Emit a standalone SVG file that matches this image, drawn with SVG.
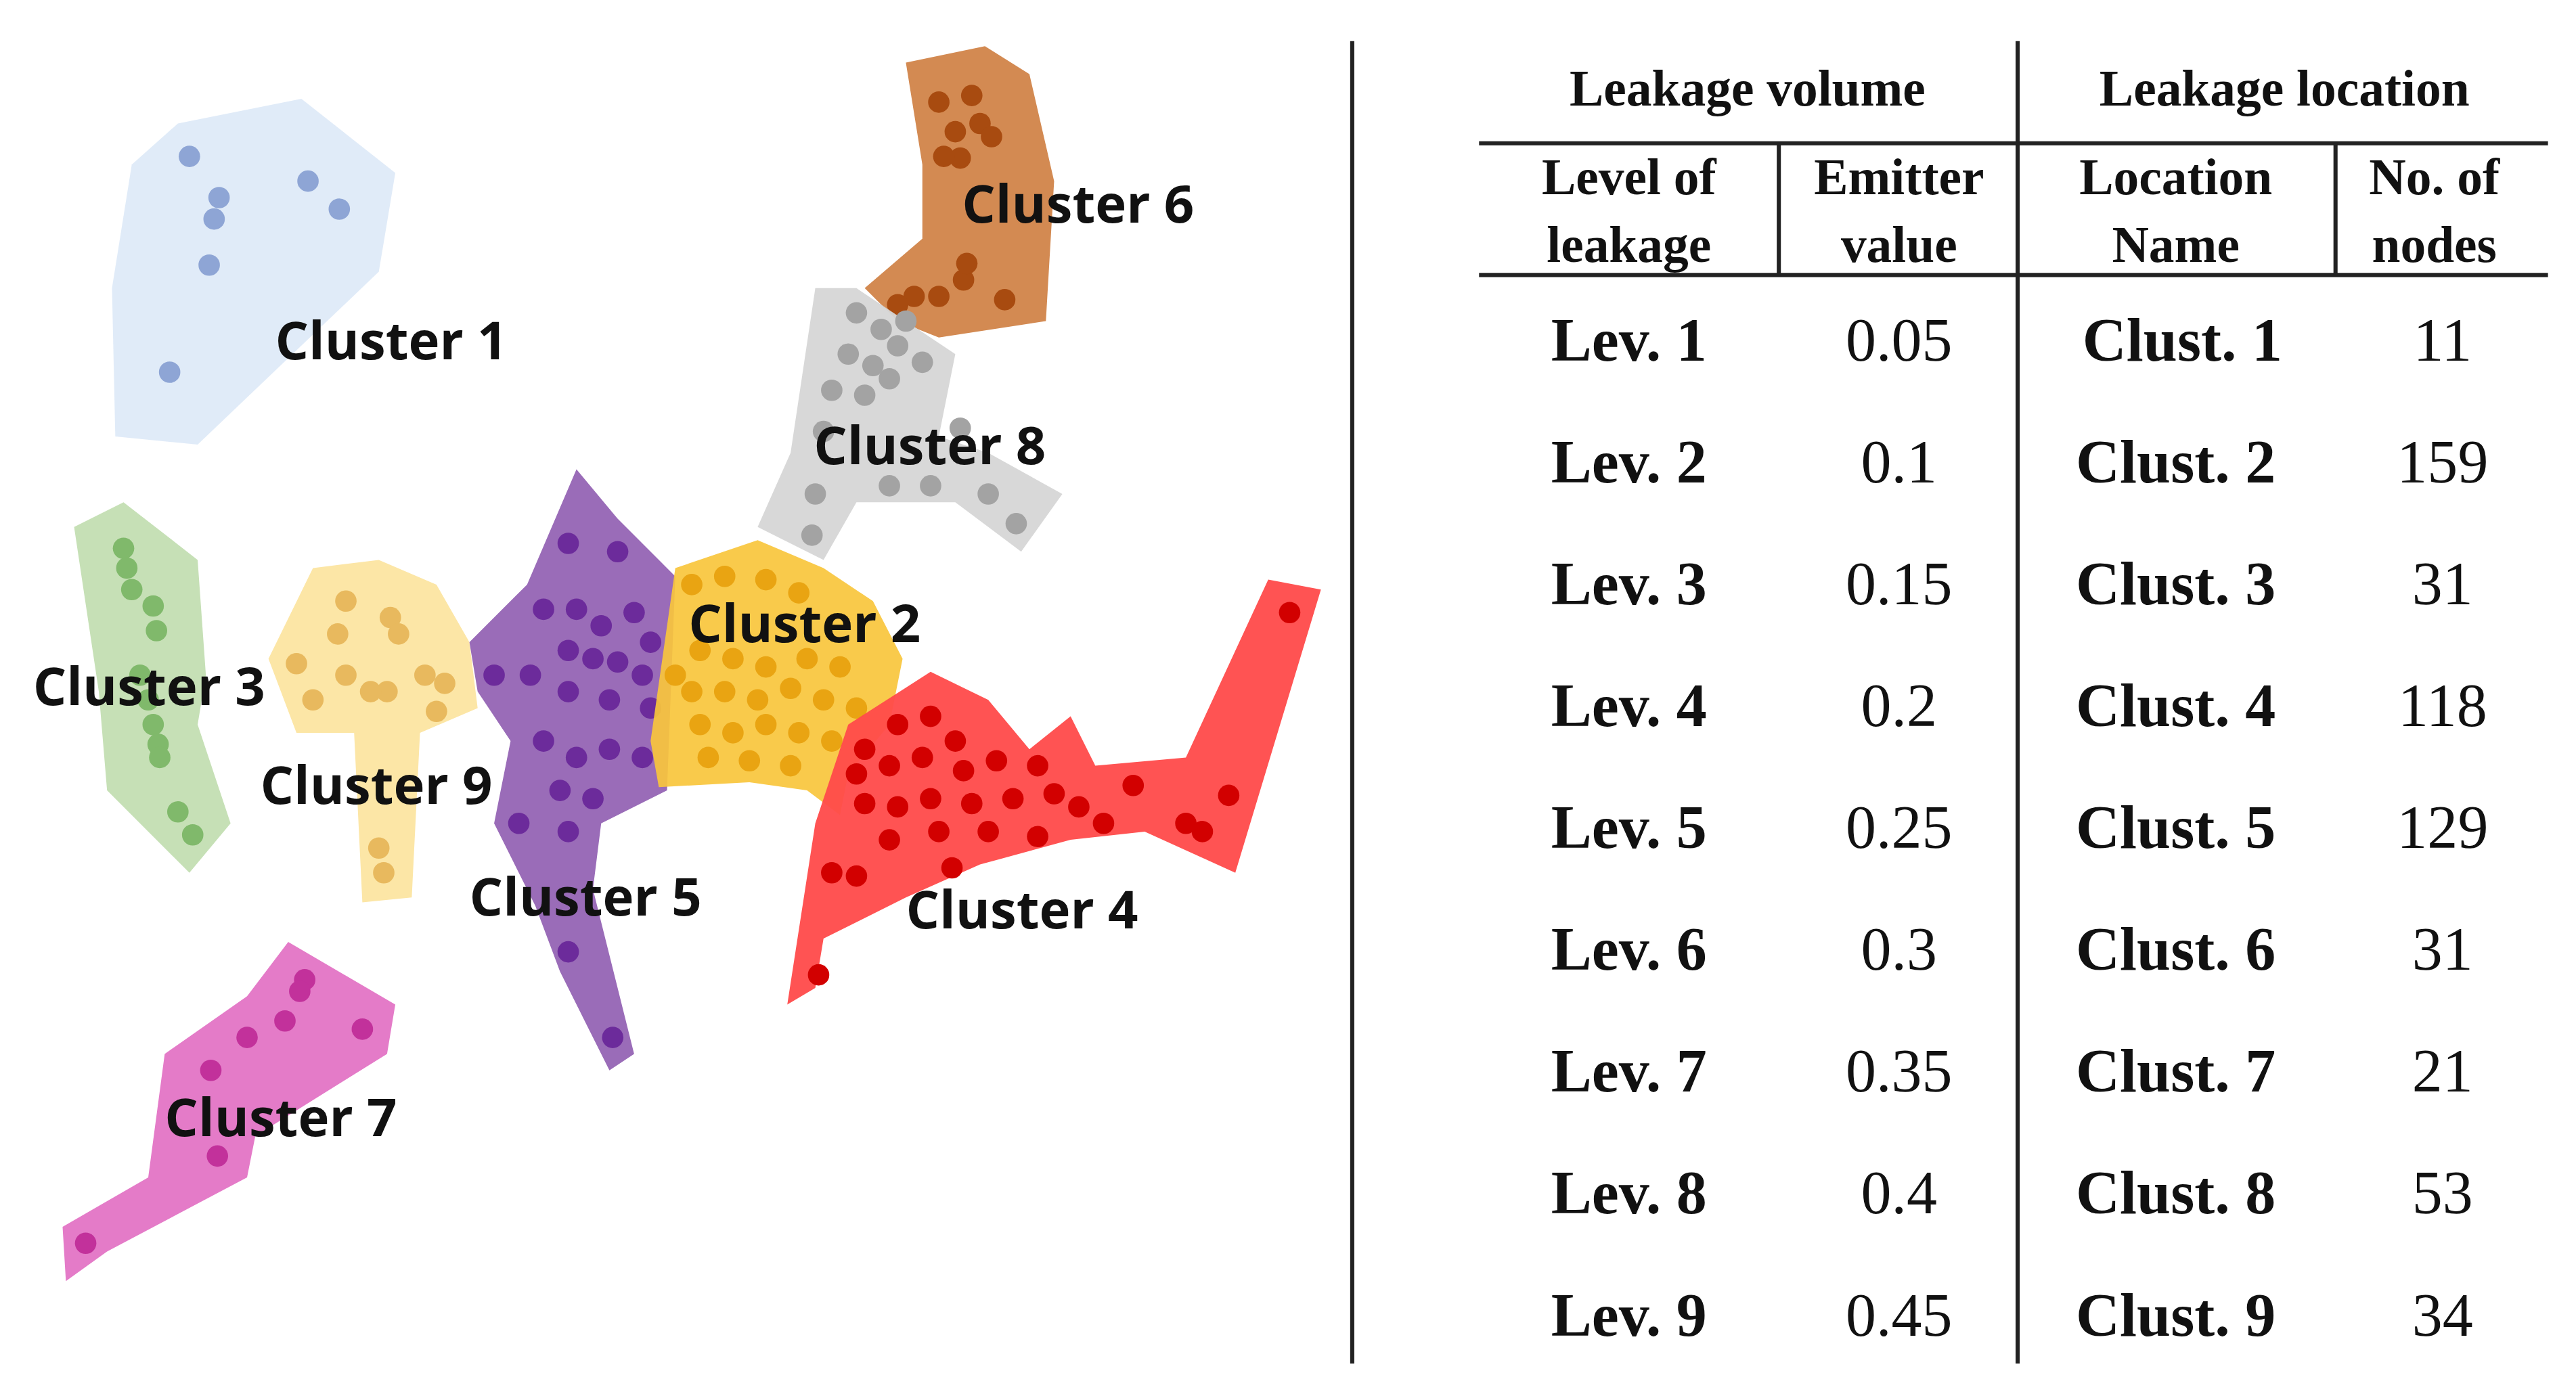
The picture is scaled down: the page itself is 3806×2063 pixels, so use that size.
<svg xmlns="http://www.w3.org/2000/svg" width="3806" height="2063" viewBox="0 0 3806 2063">
<style>
.lbl{font-family:"Open Sans","Noto Sans",sans-serif;font-weight:bold;font-size:32px;fill:#111}
.th{font-family:"Liberation Serif",serif;font-weight:bold;font-size:31px;fill:#111;text-anchor:middle}
.tb{font-family:"Liberation Serif",serif;font-weight:bold;font-size:37px;fill:#111;text-anchor:middle}
.tr{font-family:"Liberation Serif",serif;font-size:37px;fill:#111;text-anchor:middle}
.ln{stroke:#222;stroke-width:2.5;fill:none}
circle{r:6.5px}
</style>
<rect width="3806" height="2063" fill="#fff"/>
<g transform="scale(2.4335)">
<g id="cluster1">
<polygon points="108,75 183,60 240,105 230,165 120,270 70,265 68,175 80,100" fill="#dde9f7" opacity="0.9"/>
<g fill="#8ea5d5"><circle cx="115" cy="95" r="6.5"/><circle cx="133" cy="120" r="6.5"/><circle cx="130" cy="133" r="6.5"/><circle cx="187" cy="110" r="6.5"/><circle cx="206" cy="127" r="6.5"/><circle cx="127" cy="161" r="6.5"/><circle cx="103" cy="226" r="6.5"/></g>
<text class="lbl" x="167" y="218">Cluster 1</text></g>
<g id="cluster6">
<polygon points="550,38 598,28 625,45 640,110 635,195 570,205 545,195 525,175 560,145 560,100" fill="#d38a52"/>
<g fill="#a84b10"><circle cx="570" cy="62" r="6.5"/><circle cx="590" cy="58" r="6.5"/><circle cx="580" cy="80" r="6.5"/><circle cx="595" cy="75" r="6.5"/><circle cx="602" cy="83" r="6.5"/><circle cx="583" cy="96" r="6.5"/><circle cx="573" cy="95" r="6.5"/><circle cx="555" cy="180" r="6.5"/><circle cx="570" cy="180" r="6.5"/><circle cx="585" cy="170" r="6.5"/><circle cx="610" cy="182" r="6.5"/><circle cx="587" cy="160" r="6.5"/><circle cx="545" cy="185" r="6.5"/></g>
</g>
<g id="cluster8">
<polygon points="495,175 520,175 580,215 570,265 600,275 645,300 620,335 580,305 520,305 500,340 460,320 480,275" fill="#d6d6d6" opacity="0.95"/>
<g fill="#a3a3a3"><circle cx="520" cy="190" r="6.5"/><circle cx="535" cy="200" r="6.5"/><circle cx="545" cy="210" r="6.5"/><circle cx="530" cy="222" r="6.5"/><circle cx="515" cy="215" r="6.5"/><circle cx="550" cy="195" r="6.5"/><circle cx="505" cy="237" r="6.5"/><circle cx="525" cy="240" r="6.5"/><circle cx="540" cy="230" r="6.5"/><circle cx="560" cy="220" r="6.5"/><circle cx="500" cy="262" r="6.5"/><circle cx="495" cy="300" r="6.5"/><circle cx="493" cy="325" r="6.5"/><circle cx="540" cy="295" r="6.5"/><circle cx="565" cy="295" r="6.5"/><circle cx="600" cy="300" r="6.5"/><circle cx="617" cy="318" r="6.5"/><circle cx="583" cy="260" r="6.5"/></g>
</g>
<g id="cluster3">
<polygon points="45,320 75,305 120,340 125,410 120,440 140,500 115,530 65,480 60,420" fill="#c6e0b6"/>
<g fill="#80b96b"><circle cx="75" cy="333" r="6.5"/><circle cx="77" cy="345" r="6.5"/><circle cx="80" cy="358" r="6.5"/><circle cx="93" cy="368" r="6.5"/><circle cx="95" cy="383" r="6.5"/><circle cx="85" cy="410" r="6.5"/><circle cx="90" cy="425" r="6.5"/><circle cx="93" cy="440" r="6.5"/><circle cx="96" cy="452" r="6.5"/><circle cx="97" cy="460" r="6.5"/><circle cx="108" cy="493" r="6.5"/><circle cx="117" cy="507" r="6.5"/></g>
<text class="lbl" x="20" y="428">Cluster 3</text></g>
<g id="cluster9">
<polygon points="190,345 230,340 265,355 285,390 290,430 255,445 250,545 220,548 215,445 180,445 163,400" fill="#fce6a6"/>
<g fill="#e8b95e"><circle cx="210" cy="365" r="6.5"/><circle cx="237" cy="375" r="6.5"/><circle cx="242" cy="385" r="6.5"/><circle cx="205" cy="385" r="6.5"/><circle cx="180" cy="403" r="6.5"/><circle cx="210" cy="410" r="6.5"/><circle cx="235" cy="420" r="6.5"/><circle cx="225" cy="420" r="6.5"/><circle cx="258" cy="410" r="6.5"/><circle cx="270" cy="415" r="6.5"/><circle cx="265" cy="432" r="6.5"/><circle cx="190" cy="425" r="6.5"/><circle cx="230" cy="515" r="6.5"/><circle cx="233" cy="530" r="6.5"/></g>
<text class="lbl" x="158" y="488">Cluster 9</text></g>
<g id="cluster5">
<polygon points="350,285 375,315 410,350 405,480 365,500 360,540 385,640 370,650 340,590 325,550 300,500 310,450 290,420 285,390 320,355" fill="#9a6cb8"/>
<g fill="#6c2b9b"><circle cx="345" cy="330" r="6.5"/><circle cx="375" cy="335" r="6.5"/><circle cx="330" cy="370" r="6.5"/><circle cx="350" cy="370" r="6.5"/><circle cx="365" cy="380" r="6.5"/><circle cx="385" cy="372" r="6.5"/><circle cx="395" cy="390" r="6.5"/><circle cx="345" cy="395" r="6.5"/><circle cx="360" cy="400" r="6.5"/><circle cx="375" cy="402" r="6.5"/><circle cx="390" cy="410" r="6.5"/><circle cx="300" cy="410" r="6.5"/><circle cx="322" cy="410" r="6.5"/><circle cx="345" cy="420" r="6.5"/><circle cx="370" cy="425" r="6.5"/><circle cx="395" cy="430" r="6.5"/><circle cx="330" cy="450" r="6.5"/><circle cx="350" cy="460" r="6.5"/><circle cx="370" cy="455" r="6.5"/><circle cx="390" cy="460" r="6.5"/><circle cx="340" cy="480" r="6.5"/><circle cx="360" cy="485" r="6.5"/><circle cx="315" cy="500" r="6.5"/><circle cx="345" cy="505" r="6.5"/><circle cx="345" cy="578" r="6.5"/><circle cx="372" cy="630" r="6.5"/></g>
</g>
<g id="cluster2">
<polygon points="410,345 460,328 500,345 530,365 548,400 540,440 515,470 510,495 490,480 455,475 400,478 395,450" fill="#f8c63c" opacity="0.92"/>
<g fill="#e9a412"><circle cx="420" cy="355" r="6.5"/><circle cx="440" cy="350" r="6.5"/><circle cx="465" cy="352" r="6.5"/><circle cx="485" cy="360" r="6.5"/><circle cx="425" cy="395" r="6.5"/><circle cx="445" cy="400" r="6.5"/><circle cx="465" cy="405" r="6.5"/><circle cx="490" cy="400" r="6.5"/><circle cx="510" cy="405" r="6.5"/><circle cx="420" cy="420" r="6.5"/><circle cx="440" cy="420" r="6.5"/><circle cx="460" cy="425" r="6.5"/><circle cx="480" cy="418" r="6.5"/><circle cx="500" cy="425" r="6.5"/><circle cx="520" cy="430" r="6.5"/><circle cx="425" cy="440" r="6.5"/><circle cx="445" cy="445" r="6.5"/><circle cx="465" cy="440" r="6.5"/><circle cx="485" cy="445" r="6.5"/><circle cx="505" cy="450" r="6.5"/><circle cx="430" cy="460" r="6.5"/><circle cx="455" cy="462" r="6.5"/><circle cx="480" cy="465" r="6.5"/><circle cx="410" cy="410" r="6.5"/></g>
<text class="lbl" x="418" y="390">Cluster 2</text></g>
<g id="cluster4">
<polygon points="515,440 565,408 600,425 625,455 650,435 665,465 720,460 770,352 802,358 750,530 695,505 650,510 595,525 550,545 500,570 495,600 478,610 495,500" fill="#ff4a4a" opacity="0.95"/>
<g fill="#d20000"><circle cx="525" cy="455" r="6.5"/><circle cx="545" cy="440" r="6.5"/><circle cx="565" cy="435" r="6.5"/><circle cx="580" cy="450" r="6.5"/><circle cx="520" cy="470" r="6.5"/><circle cx="540" cy="465" r="6.5"/><circle cx="560" cy="460" r="6.5"/><circle cx="585" cy="468" r="6.5"/><circle cx="605" cy="462" r="6.5"/><circle cx="630" cy="465" r="6.5"/><circle cx="525" cy="488" r="6.5"/><circle cx="545" cy="490" r="6.5"/><circle cx="565" cy="485" r="6.5"/><circle cx="590" cy="488" r="6.5"/><circle cx="615" cy="485" r="6.5"/><circle cx="640" cy="482" r="6.5"/><circle cx="540" cy="510" r="6.5"/><circle cx="570" cy="505" r="6.5"/><circle cx="600" cy="505" r="6.5"/><circle cx="630" cy="508" r="6.5"/><circle cx="655" cy="490" r="6.5"/><circle cx="670" cy="500" r="6.5"/><circle cx="688" cy="477" r="6.5"/><circle cx="720" cy="500" r="6.5"/><circle cx="730" cy="505" r="6.5"/><circle cx="746" cy="483" r="6.5"/><circle cx="505" cy="530" r="6.5"/><circle cx="520" cy="532" r="6.5"/><circle cx="578" cy="527" r="6.5"/><circle cx="497" cy="592" r="6.5"/><circle cx="783" cy="372" r="6.5"/></g>
<text class="lbl" x="550" y="564">Cluster 4</text></g>
<text class="lbl" x="285" y="556">Cluster 5</text>
<text class="lbl" x="494" y="282">Cluster 8</text>
<text class="lbl" x="584" y="135">Cluster 6</text>
<g id="cluster7">
<polygon points="175,572 240,610 235,640 155,690 150,715 65,760 40,778 38,745 90,715 100,640 150,605" fill="#e47bc8"/>
<g fill="#c2319b"><circle cx="185" cy="595" r="6.5"/><circle cx="182" cy="602" r="6.5"/><circle cx="173" cy="620" r="6.5"/><circle cx="150" cy="630" r="6.5"/><circle cx="220" cy="625" r="6.5"/><circle cx="128" cy="650" r="6.5"/><circle cx="132" cy="702" r="6.5"/><circle cx="52" cy="755" r="6.5"/></g>
<text class="lbl" x="100" y="690">Cluster 7</text></g>
<g id="table">
<line class="ln" x1="821" y1="25" x2="821" y2="828"/>
<line class="ln" x1="1225" y1="25" x2="1225" y2="828"/>
<line class="ln" x1="898" y1="87" x2="1547" y2="87"/>
<line class="ln" x1="898" y1="167" x2="1547" y2="167"/>
<line class="ln" x1="1080" y1="87" x2="1080" y2="167"/>
<line class="ln" x1="1418" y1="87" x2="1418" y2="167"/>
<text class="th" x="1061" y="64">Leakage volume</text>
<text class="th" x="1387" y="64">Leakage location</text>
<text class="th" x="989" y="118">Level of</text><text class="th" x="989" y="159">leakage</text>
<text class="th" x="1153" y="118">Emitter</text><text class="th" x="1153" y="159">value</text>
<text class="th" x="1321" y="118">Location</text><text class="th" x="1321" y="159">Name</text>
<text class="th" x="1478" y="118">No. of</text><text class="th" x="1478" y="159">nodes</text>
<g class="rows">
<text class="tb" x="989" y="219">Lev. 1</text><text class="tr" x="1153" y="219">0.05</text><text class="tb" x="1325" y="219">Clust. 1</text><text class="tr" x="1483" y="219">11</text>
<text class="tb" x="989" y="293">Lev. 2</text><text class="tr" x="1153" y="293">0.1</text><text class="tb" x="1321" y="293">Clust. 2</text><text class="tr" x="1483" y="293">159</text>
<text class="tb" x="989" y="367">Lev. 3</text><text class="tr" x="1153" y="367">0.15</text><text class="tb" x="1321" y="367">Clust. 3</text><text class="tr" x="1483" y="367">31</text>
<text class="tb" x="989" y="441">Lev. 4</text><text class="tr" x="1153" y="441">0.2</text><text class="tb" x="1321" y="441">Clust. 4</text><text class="tr" x="1483" y="441">118</text>
<text class="tb" x="989" y="515">Lev. 5</text><text class="tr" x="1153" y="515">0.25</text><text class="tb" x="1321" y="515">Clust. 5</text><text class="tr" x="1483" y="515">129</text>
<text class="tb" x="989" y="589">Lev. 6</text><text class="tr" x="1153" y="589">0.3</text><text class="tb" x="1321" y="589">Clust. 6</text><text class="tr" x="1483" y="589">31</text>
<text class="tb" x="989" y="663">Lev. 7</text><text class="tr" x="1153" y="663">0.35</text><text class="tb" x="1321" y="663">Clust. 7</text><text class="tr" x="1483" y="663">21</text>
<text class="tb" x="989" y="737">Lev. 8</text><text class="tr" x="1153" y="737">0.4</text><text class="tb" x="1321" y="737">Clust. 8</text><text class="tr" x="1483" y="737">53</text>
<text class="tb" x="989" y="811">Lev. 9</text><text class="tr" x="1153" y="811">0.45</text><text class="tb" x="1321" y="811">Clust. 9</text><text class="tr" x="1483" y="811">34</text>
</g></g>
<g id="connectors"></g>
</g>
</svg>
